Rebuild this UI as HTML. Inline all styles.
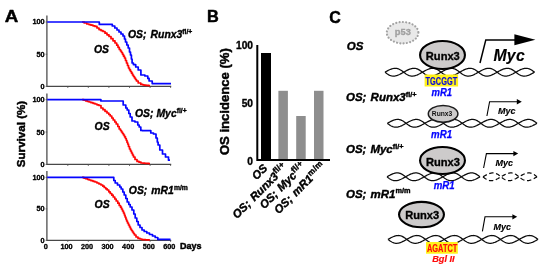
<!DOCTYPE html>
<html><head><meta charset="utf-8"><title>Figure</title>
<style>
html,body{margin:0;padding:0;background:#fff;}
body{width:550px;height:267px;overflow:hidden;}
svg{display:block;font-family:"Liberation Sans",sans-serif;}
.b{font-weight:bold;}
.k{stroke:#000;stroke-width:0.45px;}
.bi{font-weight:bold;font-style:italic;}
text{stroke-linejoin:round;}
.tk{font-weight:bold;font-size:7.3px;fill:#000;stroke:#000;stroke-width:0.3px;}
.tkb{font-weight:bold;font-size:10.2px;fill:#000;stroke:#000;stroke-width:0.35px;}
.ax{stroke:#484848;stroke-width:1.25;fill:none;}
.axt{stroke:#505050;stroke-width:0.8;fill:none;}
.red{stroke:#ff0505;stroke-width:1.7;fill:none;stroke-linejoin:round;}
.blue{stroke:#0505ff;stroke-width:1.7;fill:none;stroke-linejoin:round;}
.hx{stroke:#0c0c0c;stroke-width:1.25;fill:none;}
.lab{font-weight:bold;font-style:italic;font-size:11.5px;fill:#000;stroke:#000;stroke-width:0.4px;}
.sup{font-size:7.3px;font-style:normal;}
.supb{font-size:8.2px;font-style:normal;letter-spacing:0.25px;}
.labb{font-size:11.4px;word-spacing:1.2px;}
.crv{font-weight:bold;font-style:italic;font-size:10.4px;fill:#000;stroke:#000;stroke-width:0.35px;word-spacing:1.2px;}
.csup{font-size:6.8px;font-style:normal;}
</style></head><body>
<svg width="550" height="267" viewBox="0 0 550 267">
<rect width="550" height="267" fill="#fff"/>

<text class="b k" transform="translate(4.8 22.2) scale(1.15 1)" font-size="16.3">A</text>
<path class="ax" d="M46.900000000000006 15.6V86.4H171.2"/>
<path class="axt" d="M67.8 86.4v1.6M88.3 86.4v1.6M108.9 86.4v1.6M129.5 86.4v1.6M150.1 86.4v1.6M170.6 86.4v1.6"/>
<path class="axt" d="M47.2 22.0h-1.6M47.2 54.2h-1.6M47.2 86.4h-1.6"/>
<text class="tk" text-anchor="end" x="44.6" y="24.4">100</text>
<text class="tk" text-anchor="end" x="44.6" y="56.7">50</text>
<text class="tk" text-anchor="end" x="44.6" y="88.9">0</text>
<path class="ax" d="M46.900000000000006 93.4V164.4H171.2"/>
<path class="axt" d="M67.8 164.4v1.6M88.3 164.4v1.6M108.9 164.4v1.6M129.5 164.4v1.6M150.1 164.4v1.6M170.6 164.4v1.6"/>
<path class="axt" d="M47.2 99.6h-1.6M47.2 132.0h-1.6M47.2 164.4h-1.6"/>
<text class="tk" text-anchor="end" x="44.6" y="102.0">100</text>
<text class="tk" text-anchor="end" x="44.6" y="134.5">50</text>
<text class="tk" text-anchor="end" x="44.6" y="166.9">0</text>
<path class="ax" d="M46.900000000000006 171.0V240.3H171.2"/>
<path class="axt" d="M67.8 240.3v1.6M88.3 240.3v1.6M108.9 240.3v1.6M129.5 240.3v1.6M150.1 240.3v1.6M170.6 240.3v1.6"/>
<path class="axt" d="M47.2 177.4h-1.6M47.2 208.9h-1.6M47.2 240.3h-1.6"/>
<text class="tk" text-anchor="end" x="44.6" y="179.8">100</text>
<text class="tk" text-anchor="end" x="44.6" y="211.4">50</text>
<text class="tk" text-anchor="end" x="44.6" y="242.8">0</text>
<text class="tk" text-anchor="middle" x="45.9" y="248.9">0</text>
<text class="tk" text-anchor="middle" x="66.5" y="248.9">100</text>
<text class="tk" text-anchor="middle" x="87.0" y="248.9">200</text>
<text class="tk" text-anchor="middle" x="107.6" y="248.9">300</text>
<text class="tk" text-anchor="middle" x="128.2" y="248.9">400</text>
<text class="tk" text-anchor="middle" x="148.8" y="248.9">500</text>
<text class="tk" text-anchor="middle" x="169.3" y="248.9">600</text>
<text class="b k" x="180" y="249.4" font-size="9">Days</text>
<text class="b k" font-size="11.6" transform="translate(24.5 167.2) rotate(-90)">Survival (%)</text>
<path class="red" d="M82.0 22.0H82.5V22.0H83.0H84.2V23.0H85.5H86.8V24.0H88.0H89.0V24.6H90.0H91.0V25.2H92.0H93.0V25.8H94.0H95.0V26.4H96.0H97.0V28.0H98.0H99.0V29.6H100.0H101.0V30.6H102.0H103.0V31.5H104.0H105.0V33.2H106.0H107.0V34.8H108.0H109.0V36.5H110.0H111.0V38.7H112.0H113.0V40.8H114.0H115.0V43.0H116.0H116.7V45.2H117.3H118.0V47.3H118.7H119.3V49.5H120.0H120.5V51.0H121.0H121.5V52.5H122.0H122.5V54.3H123.0H123.5V56.2H124.0H124.5V58.0H125.0H125.5V60.5H126.0H126.5V63.0H127.0H127.5V65.5H128.0H128.5V68.0H129.0H129.5V69.8H130.0H130.5V71.5H131.0H131.5V73.2H132.0H132.5V75.0H133.0H133.5V76.5H134.0H134.5V78.0H135.0H135.5V79.5H136.0H136.5V81.0H137.0H138.2V83.0H139.5H140.8V84.4H142.0H142.8V84.8H143.5H144.2V85.2H145.0H146.2V85.4H147.5H148.8V85.6H150.0"/>
<path class="blue" d="M47.2 22.0H73.1V22.0H99.0H99.3V24.4H99.6H105.3V24.4H111.0H112.3V26.0H113.6H114.8V28.0H116.0H117.0V30.0H118.0H119.0V32.0H120.0H121.0V34.0H122.0H123.0V36.0H124.0H124.5V39.0H125.0H125.5V42.0H126.0H126.8V45.0H127.5H128.2V48.0H129.0H129.5V52.0H130.0H130.5V55.0H131.0H131.4V59.0H131.8H132.1V63.0H132.4H133.4V64.6H134.4H135.7V67.0H137.0H138.2V70.0H139.4H140.9V75.0H142.4H144.9V76.0H147.5H147.8V78.4H148.2H149.1V81.0H150.0H152.2V83.6H154.5H155.0V83.6H155.5H163.2V83.6H171.0"/>
<path class="red" d="M82.0 99.6H82.5V99.6H83.0H83.9V100.2H84.8H85.6V100.8H86.5H87.4V101.4H88.2H89.1V102.0H90.0H91.0V102.7H92.0H93.0V103.3H94.0H95.0V104.0H96.0H97.0V104.8H98.0H99.0V105.5H100.0H101.0V108.0H102.0H103.0V109.7H104.0H105.0V111.3H106.0H107.0V113.0H108.0H108.8V114.5H109.5H110.2V116.0H111.0H111.8V118.0H112.5H113.2V120.0H114.0H114.8V122.0H115.5H116.2V124.0H117.0H117.8V126.5H118.5H119.2V129.0H120.0H120.5V130.5H121.0H121.5V132.0H122.0H122.5V133.5H123.0H123.5V135.0H124.0H124.5V136.8H125.0H125.5V138.5H126.0H126.3V140.3H126.7H127.0V142.2H127.3H127.7V144.0H128.0H128.5V146.5H129.0H129.5V149.0H130.0H130.5V151.0H131.0H131.5V153.0H132.0H132.5V155.0H133.0H133.5V157.0H134.0H135.0V159.5H136.0H137.0V161.4H138.0H139.0V162.2H140.0H141.0V163.0H142.0H143.0V163.2H144.0H145.0V163.3H146.0H147.0V163.4H148.0H149.0V163.6H150.0"/>
<path class="blue" d="M47.2 99.6H73.9V99.6H100.6H100.9V101.0H101.2H111.3V101.0H121.5H123.2V105.0H125.0H125.8V108.0H126.5H127.2V110.0H128.0H128.8V113.5H129.5H130.2V117.0H131.0H132.0V121.0H133.0H135.0V122.0H137.0H137.8V125.0H138.5H139.2V127.0H140.0H140.8V130.4H141.6H142.1V130.6H142.5H146.0V130.6H149.5H150.8V133.0H152.0H153.5V134.0H155.0H156.0V138.0H157.0H157.3V142.0H157.6H158.1V145.0H158.5H159.8V150.0H161.0H162.5V154.0H164.0H165.5V157.0H167.0H168.5V160.2H170.0"/>
<path class="red" d="M82.0 177.4H82.5V177.4H83.0H83.9V178.1H84.8H85.6V178.7H86.5H87.4V179.3H88.2H89.1V180.0H90.0H91.0V180.7H92.0H93.0V181.3H94.0H95.0V182.0H96.0H97.0V183.0H98.0H99.0V184.0H100.0H101.0V185.0H102.0H102.8V186.2H103.5H104.2V187.5H105.0H105.8V188.8H106.5H107.2V190.0H108.0H108.8V191.8H109.5H110.2V193.5H111.0H111.8V195.2H112.5H113.2V197.0H114.0H114.8V199.0H115.5H116.2V201.0H117.0H117.8V203.2H118.5H119.2V205.5H120.0H120.5V207.2H121.0H121.5V209.0H122.0H122.5V211.0H123.0H123.5V213.0H124.0H124.4V215.0H124.8H125.1V217.0H125.5H125.9V219.0H126.2H126.6V221.0H127.0H127.5V223.0H128.0H128.5V225.0H129.0H129.5V227.0H130.0H130.5V229.0H131.0H131.5V230.5H132.0H132.5V232.0H133.0H133.5V233.5H134.0H134.5V235.0H135.0H136.0V237.0H137.0H138.0V238.4H139.0H140.0V239.0H141.0H142.0V239.6H143.0H143.9V239.7H144.8H145.6V239.8H146.5H147.4V239.9H148.2H149.1V240.0H150.0"/>
<path class="blue" d="M47.2 177.4H80.1V177.4H113.0H113.8V180.5H114.5H115.2V183.0H116.0H117.5V185.0H119.0H119.8V187.0H120.5H121.2V189.0H122.0H122.8V192.0H123.5H124.2V195.0H125.0H125.8V198.5H126.5H127.2V202.0H128.0H128.8V204.5H129.5H130.2V207.0H131.0H132.0V210.0H133.0H133.8V214.0H134.5H135.2V218.0H136.0H136.8V221.5H137.5H138.2V225.0H139.0H140.0V227.5H141.0H142.0V230.0H143.0H144.2V231.5H145.5H146.8V233.0H148.0H149.5V234.5H151.0H152.5V236.0H154.0H155.2V237.5H156.5H157.8V239.4H159.0H159.5V239.4H160.0H165.2V239.4H170.5"/>
<text class="crv" x="94" y="52.8">OS</text>
<text class="crv" x="94.6" y="129.6">OS</text>
<text class="crv" x="94.6" y="208.2">OS</text>
<text class="crv" x="128" y="37.6">OS; Runx3<tspan class="csup" dy="-4">fl/+</tspan></text>
<text class="crv" x="135" y="117.2" style="word-spacing:0.1px">OS; Myc<tspan class="csup" dy="-4">fl/+</tspan></text>
<text class="crv" x="128.8" y="194.1">OS; mR1<tspan class="csup" dy="-4">m/m</tspan></text>
<text class="b k" transform="translate(207 22.2) scale(1.04 1)" font-size="15.7">B</text>
<rect x="261" y="53" width="10" height="106.5" fill="#000"/>
<rect x="278.4" y="90.8" width="9.5" height="68.7" fill="#8e8e8e"/>
<rect x="296.2" y="116" width="9.5" height="43.5" fill="#8e8e8e"/>
<rect x="314" y="90.8" width="9.5" height="68.7" fill="#8e8e8e"/>
<path d="M257.3 45V160H330" stroke="#000" stroke-width="2" fill="none"/>
<text class="tkb" text-anchor="end" x="253" y="49">100</text>
<text class="tkb" text-anchor="end" x="253" y="107.2">50</text>
<text class="tkb" text-anchor="end" x="253" y="164.7">0</text>
<text class="b k" font-size="13.1" transform="translate(229 155.1) rotate(-90)">OS incidence (%)</text>
<text class="lab labb" transform="translate(256.6 180.6) rotate(-45)">OS</text>
<text class="lab labb" transform="translate(237.0 219.2) rotate(-45)">OS; Runx3<tspan class="supb" dy="-4.4">fl/+</tspan></text>
<text class="lab labb" transform="translate(264.2 209.4) rotate(-45)">OS; Myc<tspan class="supb" dy="-4.4">fl/+</tspan></text>
<text class="lab labb" transform="translate(278.8 214.4) rotate(-45)">OS; mR1<tspan class="supb" dy="-4.4">m/m</tspan></text>
<text class="b k" x="329.2" y="22.6" font-size="16">C</text>
<text class="lab" x="346.8" y="49.6">OS</text>
<text class="lab" x="346" y="101.4">OS;</text><text class="lab" x="370.6" y="101.4">Runx3<tspan class="sup" dy="-4.4" font-size="7.6">fl/+</tspan></text>
<text class="lab" x="346" y="153.3">OS;</text><text class="lab" x="370.4" y="153.3">Myc<tspan class="sup" dy="-4.4" font-size="7.6">fl/+</tspan></text>
<text class="lab" x="346" y="197.8">OS;</text><text class="lab" x="370.6" y="197.8">mR1<tspan class="sup" dy="-4.4" font-size="6.9">m/m</tspan></text>
<ellipse cx="402.6" cy="32.7" rx="15.8" ry="10.7" fill="#e9e9e9" stroke="#a2a2a2" stroke-width="2.2" stroke-linecap="round" stroke-dasharray="0.01 3.3"/>
<text class="b" x="402.8" y="35.2" font-size="9.3" fill="#a0a0a0" stroke="#a0a0a0" stroke-width="0.3" text-anchor="middle">p53</text>
<path class="hx"  d="M385.00 72.20L385.42 72.53L385.85 72.85L386.28 73.17L386.70 73.49L387.13 73.79L387.57 74.08L388.00 74.36L388.44 74.63L388.88 74.88L389.33 75.11L389.78 75.31L390.24 75.50L390.70 75.66L391.17 75.80L391.64 75.91L392.12 76.00L392.61 76.06L393.10 76.09L393.60 76.10L394.11 76.08L394.62 76.03L395.13 75.95L395.66 75.85L396.19 75.72L396.72 75.56L397.26 75.39L397.81 75.19L398.36 74.96L398.92 74.72L399.48 74.47L400.04 74.19L400.61 73.90L401.18 73.60L401.75 73.29L402.32 72.97L402.90 72.65L403.47 72.32L404.05 72.00L404.62 71.67L405.20 71.35L405.77 71.03L406.34 70.72L406.91 70.42L407.48 70.14L408.04 69.87L408.60 69.61L409.15 69.38L409.70 69.16L410.25 68.97L410.79 68.80L411.32 68.65L411.85 68.53L412.37 68.43L412.89 68.36L413.40 68.32L413.90 68.30L414.40 68.31L414.89 68.35L415.37 68.42L415.85 68.51L416.32 68.63L416.79 68.78L417.25 68.94L417.71 69.14L418.16 69.35L418.60 69.58L419.05 69.84L419.48 70.10L419.92 70.39L420.35 70.68L420.78 70.99L421.21 71.31L421.63 71.63L422.06 71.95L422.48 72.28L422.91 72.61L423.33 72.93L423.76 73.25L424.19 73.56L424.62 73.87L425.05 74.16L425.48 74.43L425.92 74.69L426.37 74.94L426.82 75.16L427.27 75.36L427.73 75.54L428.19 75.70L428.66 75.83L429.14 75.94L429.62 76.02L430.11 76.07L430.60 76.10L431.10 76.10L431.61 76.07L432.12 76.01L432.64 75.93L433.17 75.82L433.70 75.68L434.23 75.52L434.78 75.34L435.32 75.13L435.88 74.91L436.43 74.66L436.99 74.40L437.56 74.12L438.12 73.83L438.69 73.53L439.27 73.21L439.84 72.89L440.42 72.57L440.99 72.24L441.57 71.91L442.14 71.59L442.72 71.27L443.29 70.95L443.86 70.65L444.43 70.35L444.99 70.07L445.55 69.80L446.11 69.55L446.66 69.32L447.21 69.11L447.76 68.92L448.29 68.76L448.83 68.61L449.35 68.50L449.87 68.41L450.39 68.35L450.90 68.31L451.40 68.30L451.90 68.32L452.38 68.37L452.87 68.44L453.34 68.54L453.82 68.66L454.28 68.82L454.74 68.99L455.20 69.19L455.64 69.41L456.09 69.64L456.53 69.90L456.97 70.17L457.40 70.46L457.83 70.76L458.26 71.07L458.69 71.39L459.11 71.71L459.54 72.04L459.96 72.36L460.39 72.69L460.81 73.01L461.24 73.33L461.67 73.64L462.10 73.94L462.53 74.23L462.97 74.50L463.41 74.76L463.86 74.99L464.30 75.21L464.76 75.41L465.22 75.58L465.68 75.74L466.16 75.86L466.63 75.96L467.12 76.03L467.60 76.08L468.10 76.10L468.60 76.09L469.11 76.05L469.63 75.99L470.15 75.90L470.67 75.79L471.21 75.64L471.74 75.48L472.29 75.29L472.84 75.08L473.39 74.85L473.95 74.60L474.51 74.33L475.07 74.05L475.64 73.75L476.21 73.45L476.78 73.13L477.36 72.81L477.93 72.49L478.51 72.16L479.08 71.83L479.66 71.51L480.23 71.19L480.81 70.87L481.38 70.57L481.94 70.28L482.51 70.00L483.07 69.74L483.62 69.49L484.18 69.27L484.72 69.06L485.27 68.88L485.80 68.72L486.33 68.58L486.86 68.47L487.38 68.39L487.89 68.33L488.40 68.30L488.90 68.30L489.39 68.33L489.88 68.38L490.36 68.46L490.84 68.57L491.31 68.70L491.77 68.86L492.23 69.04L492.68 69.24L493.13 69.46L493.58 69.71L494.02 69.97L494.45 70.24L494.88 70.53L495.31 70.84L495.74 71.15L496.17 71.47L496.59 71.79L497.02 72.12L497.44 72.45L497.87 72.77L498.29 73.09L498.72 73.41L499.15 73.72L499.58 74.01L500.02 74.30L500.45 74.56L500.90 74.82L501.34 75.05L501.79 75.26L502.25 75.46L502.71 75.62L503.18 75.77L503.65 75.89L504.13 75.98L504.61 76.05L505.10 76.09L505.60 76.10L506.10 76.08L506.61 76.04L507.13 75.97L507.65 75.87L508.18 75.75L508.71 75.60L509.25 75.43L509.80 75.24L510.35 75.02L510.90 74.79L511.46 74.53L512.02 74.26L512.59 73.98L513.16 73.68L513.73 73.37L514.30 73.05L514.88 72.73L515.45 72.40L516.03 72.08L516.60 71.75L517.18 71.43L517.75 71.11L518.32 70.80L518.89 70.50L519.46 70.21L520.02 69.93L520.58 69.68L521.14 69.44L521.69 69.21L522.24 69.01L522.78 68.84L523.31 68.68L523.84 68.55L524.37 68.45L524.88 68.37L525.39 68.32L525.90 68.30L526.40 68.31L526.89 68.34L527.38 68.40L527.86 68.49L528.33 68.60L528.80 68.74L529.26 68.90L529.72 69.09L530.17 69.29L530.62 69.52L531.06 69.77L531.50 70.04L531.93 70.32L532.37 70.61L532.80 70.91L533.22 71.23L533.65 71.55L534.08 71.87L534.50 72.20"/>
<path class="hx"  d="M385.00 72.20L385.58 71.87L386.15 71.55L386.72 71.23L387.30 70.91L387.87 70.61L388.43 70.32L389.00 70.04L389.56 69.77L390.12 69.52L390.67 69.29L391.22 69.09L391.76 68.90L392.30 68.74L392.83 68.60L393.36 68.49L393.88 68.40L394.39 68.34L394.90 68.31L395.40 68.30L395.89 68.32L396.38 68.37L396.87 68.45L397.34 68.55L397.81 68.68L398.28 68.84L398.74 69.01L399.19 69.21L399.64 69.44L400.08 69.68L400.52 69.93L400.96 70.21L401.39 70.50L401.82 70.80L402.25 71.11L402.68 71.43L403.10 71.75L403.53 72.08L403.95 72.40L404.38 72.73L404.80 73.05L405.23 73.37L405.66 73.68L406.09 73.98L406.52 74.26L406.96 74.53L407.40 74.79L407.85 75.02L408.30 75.24L408.75 75.43L409.21 75.60L409.68 75.75L410.15 75.87L410.63 75.97L411.11 76.04L411.60 76.08L412.10 76.10L412.60 76.09L413.11 76.05L413.63 75.98L414.15 75.89L414.68 75.77L415.21 75.62L415.75 75.46L416.29 75.26L416.84 75.05L417.40 74.82L417.95 74.56L418.52 74.30L419.08 74.01L419.65 73.72L420.22 73.41L420.79 73.09L421.37 72.77L421.94 72.45L422.52 72.12L423.09 71.79L423.67 71.47L424.24 71.15L424.81 70.84L425.38 70.53L425.95 70.24L426.52 69.97L427.08 69.71L427.63 69.46L428.18 69.24L428.73 69.04L429.27 68.86L429.81 68.70L430.34 68.57L430.86 68.46L431.38 68.38L431.89 68.33L432.40 68.30L432.90 68.30L433.39 68.33L433.88 68.39L434.36 68.47L434.83 68.58L435.30 68.72L435.77 68.88L436.22 69.06L436.68 69.27L437.12 69.49L437.57 69.74L438.01 70.00L438.44 70.28L438.88 70.57L439.31 70.87L439.73 71.19L440.16 71.51L440.58 71.83L441.01 72.16L441.43 72.49L441.86 72.81L442.28 73.13L442.71 73.45L443.14 73.75L443.57 74.05L444.01 74.33L444.45 74.60L444.89 74.85L445.34 75.08L445.79 75.29L446.24 75.48L446.71 75.64L447.17 75.79L447.65 75.90L448.13 75.99L448.61 76.05L449.10 76.09L449.60 76.10L450.10 76.08L450.62 76.03L451.13 75.96L451.66 75.86L452.18 75.74L452.72 75.58L453.26 75.41L453.80 75.21L454.36 74.99L454.91 74.76L455.47 74.50L456.03 74.23L456.60 73.94L457.17 73.64L457.74 73.33L458.31 73.01L458.89 72.69L459.46 72.36L460.04 72.04L460.61 71.71L461.19 71.39L461.76 71.07L462.33 70.76L462.90 70.46L463.47 70.17L464.03 69.90L464.59 69.64L465.14 69.41L465.70 69.19L466.24 68.99L466.78 68.82L467.32 68.66L467.84 68.54L468.37 68.44L468.88 68.37L469.40 68.32L469.90 68.30L470.40 68.31L470.89 68.35L471.37 68.41L471.85 68.50L472.33 68.61L472.79 68.76L473.26 68.92L473.71 69.11L474.16 69.32L474.61 69.55L475.05 69.80L475.49 70.07L475.93 70.35L476.36 70.65L476.79 70.95L477.22 71.27L477.64 71.59L478.07 71.91L478.49 72.24L478.92 72.57L479.34 72.89L479.77 73.21L480.19 73.53L480.62 73.83L481.06 74.12L481.49 74.40L481.93 74.66L482.38 74.91L482.82 75.13L483.28 75.34L483.73 75.52L484.20 75.68L484.67 75.82L485.14 75.93L485.62 76.01L486.11 76.07L486.60 76.10L487.10 76.10L487.61 76.07L488.12 76.02L488.64 75.94L489.16 75.83L489.69 75.70L490.23 75.54L490.77 75.36L491.32 75.16L491.87 74.94L492.42 74.69L492.98 74.43L493.55 74.16L494.12 73.87L494.69 73.56L495.26 73.25L495.83 72.93L496.41 72.61L496.98 72.28L497.56 71.95L498.13 71.63L498.71 71.31L499.28 70.99L499.85 70.68L500.42 70.39L500.98 70.10L501.55 69.84L502.10 69.58L502.66 69.35L503.21 69.14L503.75 68.94L504.29 68.78L504.82 68.63L505.35 68.51L505.87 68.42L506.39 68.35L506.90 68.31L507.40 68.30L507.90 68.32L508.39 68.36L508.87 68.43L509.35 68.53L509.82 68.65L510.29 68.80L510.75 68.97L511.20 69.16L511.65 69.38L512.10 69.61L512.54 69.87L512.98 70.14L513.41 70.42L513.84 70.72L514.27 71.03L514.70 71.35L515.12 71.67L515.55 72.00L515.97 72.32L516.40 72.65L516.82 72.97L517.25 73.29L517.68 73.60L518.11 73.90L518.54 74.19L518.98 74.47L519.42 74.72L519.86 74.96L520.31 75.19L520.76 75.39L521.22 75.56L521.69 75.72L522.16 75.85L522.63 75.95L523.12 76.03L523.61 76.08L524.10 76.10L524.60 76.09L525.11 76.06L525.62 76.00L526.14 75.91L526.67 75.80L527.20 75.66L527.74 75.50L528.28 75.31L528.83 75.11L529.38 74.88L529.94 74.63L530.50 74.36L531.07 74.08L531.63 73.79L532.20 73.49L532.78 73.17L533.35 72.85L533.92 72.53L534.50 72.20"/>
<rect x="424.6" y="74.5" width="33.5" height="12" fill="#fff21a"/>
<ellipse cx="442.5" cy="55" rx="22.45" ry="13.95" fill="#cdcbcb" stroke="#000" stroke-width="2.1"/>
<text class="b" x="442.8" y="60" font-size="11.1" stroke="#000" stroke-width="0.35" text-anchor="middle">Runx3</text>
<text class="b" x="425.6" y="84.8" font-size="10.1" fill="#0808e0" stroke="#0808e0" stroke-width="0.15" textLength="31.6" lengthAdjust="spacingAndGlyphs">TGCGGT</text>
<text class="bi" x="431.5" y="95.8" font-size="10.2" fill="#0505ff" stroke="#0505ff" stroke-width="0.25" textLength="20.6" lengthAdjust="spacingAndGlyphs">mR1</text>
<path d="M480 63L485.8 39.9H516" stroke="#000" stroke-width="1.5" fill="none"/>
<path d="M514.4 34.2L535.4 39.8L514.4 45.2Z" fill="#000"/>
<text class="bi" x="493.4" y="60.9" font-size="15.8" letter-spacing="0.3" stroke="#000" stroke-width="0.15">Myc</text>
<path class="hx"  d="M387.40 123.30L387.82 123.63L388.25 123.95L388.68 124.27L389.10 124.59L389.53 124.89L389.97 125.18L390.40 125.46L390.84 125.73L391.29 125.98L391.73 126.21L392.19 126.41L392.64 126.60L393.11 126.76L393.57 126.90L394.05 127.01L394.53 127.10L395.01 127.16L395.51 127.19L396.01 127.20L396.51 127.18L397.02 127.13L397.54 127.05L398.07 126.95L398.60 126.82L399.13 126.66L399.67 126.49L400.22 126.29L400.77 126.06L401.33 125.82L401.89 125.57L402.45 125.29L403.02 125.00L403.59 124.70L404.16 124.39L404.73 124.07L405.31 123.75L405.88 123.42L406.46 123.10L407.04 122.77L407.61 122.45L408.18 122.13L408.76 121.82L409.32 121.52L409.89 121.24L410.45 120.97L411.01 120.71L411.57 120.48L412.12 120.26L412.66 120.07L413.20 119.90L413.74 119.75L414.27 119.63L414.79 119.53L415.30 119.46L415.81 119.42L416.32 119.40L416.82 119.41L417.31 119.45L417.79 119.52L418.27 119.61L418.74 119.73L419.21 119.88L419.67 120.04L420.13 120.24L420.58 120.45L421.03 120.68L421.47 120.94L421.91 121.20L422.34 121.49L422.77 121.78L423.20 122.09L423.63 122.41L424.06 122.73L424.48 123.05L424.91 123.38L425.33 123.71L425.76 124.03L426.18 124.35L426.61 124.66L427.04 124.97L427.48 125.26L427.91 125.53L428.35 125.79L428.80 126.04L429.25 126.26L429.70 126.46L430.16 126.64L430.62 126.80L431.09 126.93L431.57 127.04L432.05 127.12L432.54 127.17L433.03 127.20L433.53 127.20L434.04 127.17L434.55 127.11L435.07 127.03L435.60 126.92L436.13 126.78L436.67 126.62L437.21 126.44L437.76 126.23L438.31 126.01L438.87 125.76L439.43 125.50L439.99 125.22L440.56 124.93L441.13 124.63L441.70 124.31L442.28 123.99L442.85 123.67L443.43 123.34L444.00 123.01L444.58 122.69L445.15 122.37L445.73 122.05L446.30 121.75L446.87 121.45L447.43 121.17L447.99 120.90L448.55 120.65L449.10 120.42L449.65 120.21L450.20 120.02L450.74 119.86L451.27 119.71L451.80 119.60L452.32 119.51L452.83 119.45L453.34 119.41L453.84 119.40L454.34 119.42L454.83 119.47L455.31 119.54L455.79 119.64L456.26 119.76L456.73 119.92L457.19 120.09L457.64 120.29L458.09 120.51L458.54 120.74L458.98 121.00L459.42 121.27L459.85 121.56L460.28 121.86L460.71 122.17L461.14 122.49L461.56 122.81L461.99 123.14L462.41 123.46L462.84 123.79L463.26 124.11L463.69 124.43L464.12 124.74L464.55 125.04L464.98 125.33L465.42 125.60L465.86 125.86L466.31 126.09L466.76 126.31L467.21 126.51L467.67 126.68L468.14 126.84L468.61 126.96L469.09 127.06L469.57 127.13L470.06 127.18L470.56 127.20L471.06 127.19L471.57 127.15L472.08 127.09L472.60 127.00L473.13 126.89L473.66 126.74L474.20 126.58L474.75 126.39L475.30 126.18L475.85 125.95L476.41 125.70L476.97 125.43L477.53 125.15L478.10 124.85L478.67 124.55L479.25 124.23L479.82 123.91L480.40 123.59L480.97 123.26L481.55 122.93L482.12 122.61L482.70 122.29L483.27 121.97L483.84 121.67L484.41 121.38L484.97 121.10L485.53 120.84L486.09 120.59L486.64 120.37L487.19 120.16L487.73 119.98L488.27 119.82L488.80 119.68L489.33 119.57L489.85 119.49L490.36 119.43L490.87 119.40L491.37 119.40L491.86 119.43L492.35 119.48L492.83 119.56L493.31 119.67L493.78 119.80L494.24 119.96L494.70 120.14L495.15 120.34L495.60 120.56L496.05 120.81L496.49 121.07L496.92 121.34L497.36 121.63L497.79 121.94L498.22 122.25L498.64 122.57L499.07 122.89L499.49 123.22L499.92 123.55L500.34 123.87L500.77 124.19L501.20 124.51L501.63 124.82L502.06 125.11L502.49 125.40L502.93 125.66L503.37 125.92L503.82 126.15L504.27 126.36L504.73 126.56L505.19 126.72L505.66 126.87L506.13 126.99L506.61 127.08L507.09 127.15L507.58 127.19L508.08 127.20L508.59 127.18L509.10 127.14L509.61 127.07L510.13 126.97L510.66 126.85L511.20 126.70L511.74 126.53L512.28 126.34L512.83 126.12L513.39 125.89L513.95 125.63L514.51 125.36L515.08 125.08L515.64 124.78L516.22 124.47L516.79 124.15L517.36 123.83L517.94 123.50L518.52 123.18L519.09 122.85L519.67 122.53L520.24 122.21L520.81 121.90L521.38 121.60L521.95 121.31L522.51 121.03L523.07 120.78L523.63 120.54L524.18 120.31L524.73 120.11L525.27 119.94L525.80 119.78L526.33 119.65L526.86 119.55L527.38 119.47L527.89 119.42L528.39 119.40L528.89 119.41L529.39 119.44L529.87 119.50L530.35 119.59L530.83 119.70L531.29 119.84L531.76 120.00L532.21 120.19L532.67 120.39L533.11 120.62L533.56 120.87L534.00 121.14L534.43 121.42L534.87 121.71L535.30 122.01L535.72 122.33L536.15 122.65L536.58 122.97L537.00 123.30"/>
<path class="hx"  d="M387.40 123.30L387.98 122.97L388.55 122.65L389.13 122.33L389.70 122.01L390.27 121.71L390.84 121.42L391.40 121.14L391.96 120.87L392.52 120.62L393.07 120.39L393.62 120.19L394.17 120.00L394.70 119.84L395.24 119.70L395.76 119.59L396.28 119.50L396.80 119.44L397.30 119.41L397.81 119.40L398.30 119.42L398.79 119.47L399.27 119.55L399.75 119.65L400.22 119.78L400.68 119.94L401.14 120.11L401.60 120.31L402.05 120.54L402.49 120.78L402.93 121.03L403.37 121.31L403.80 121.60L404.23 121.90L404.66 122.21L405.09 122.53L405.52 122.85L405.94 123.18L406.37 123.50L406.79 123.83L407.22 124.15L407.64 124.47L408.07 124.78L408.50 125.08L408.94 125.36L409.38 125.63L409.82 125.89L410.26 126.12L410.71 126.34L411.17 126.53L411.63 126.70L412.10 126.85L412.57 126.97L413.05 127.07L413.53 127.14L414.02 127.18L414.52 127.20L415.02 127.19L415.53 127.15L416.05 127.08L416.57 126.99L417.10 126.87L417.63 126.72L418.17 126.56L418.71 126.36L419.26 126.15L419.82 125.92L420.38 125.66L420.94 125.40L421.50 125.11L422.07 124.82L422.64 124.51L423.22 124.19L423.79 123.87L424.37 123.55L424.94 123.22L425.52 122.89L426.09 122.57L426.67 122.25L427.24 121.94L427.81 121.63L428.38 121.34L428.94 121.07L429.50 120.81L430.06 120.56L430.61 120.34L431.16 120.14L431.70 119.96L432.24 119.80L432.77 119.67L433.29 119.56L433.81 119.48L434.32 119.43L434.83 119.40L435.33 119.40L435.82 119.43L436.31 119.49L436.79 119.57L437.27 119.68L437.74 119.82L438.20 119.98L438.66 120.16L439.11 120.37L439.56 120.59L440.00 120.84L440.44 121.10L440.88 121.38L441.31 121.67L441.74 121.97L442.17 122.29L442.60 122.61L443.02 122.93L443.45 123.26L443.87 123.59L444.30 123.91L444.72 124.23L445.15 124.55L445.58 124.85L446.01 125.15L446.45 125.43L446.89 125.70L447.33 125.95L447.78 126.18L448.23 126.39L448.69 126.58L449.15 126.74L449.61 126.89L450.09 127.00L450.57 127.09L451.05 127.15L451.55 127.19L452.04 127.20L452.55 127.18L453.06 127.13L453.58 127.06L454.10 126.96L454.63 126.84L455.16 126.68L455.71 126.51L456.25 126.31L456.80 126.09L457.36 125.86L457.92 125.60L458.48 125.33L459.05 125.04L459.62 124.74L460.19 124.43L460.76 124.11L461.34 123.79L461.91 123.46L462.49 123.14L463.06 122.81L463.64 122.49L464.21 122.17L464.78 121.86L465.35 121.56L465.92 121.27L466.48 121.00L467.04 120.74L467.60 120.51L468.15 120.29L468.69 120.09L469.24 119.92L469.77 119.76L470.30 119.64L470.82 119.54L471.34 119.47L471.85 119.42L472.36 119.40L472.85 119.41L473.35 119.45L473.83 119.51L474.31 119.60L474.79 119.71L475.25 119.86L475.71 120.02L476.17 120.21L476.62 120.42L477.07 120.65L477.51 120.90L477.95 121.17L478.39 121.45L478.82 121.75L479.25 122.05L479.68 122.37L480.10 122.69L480.53 123.01L480.95 123.34L481.38 123.67L481.80 123.99L482.23 124.31L482.66 124.63L483.09 124.93L483.52 125.22L483.96 125.50L484.40 125.76L484.84 126.01L485.29 126.23L485.74 126.44L486.20 126.62L486.66 126.78L487.13 126.92L487.61 127.03L488.09 127.11L488.58 127.17L489.07 127.20L489.57 127.20L490.08 127.17L490.59 127.12L491.11 127.04L491.63 126.93L492.16 126.80L492.70 126.64L493.24 126.46L493.79 126.26L494.34 126.04L494.90 125.79L495.46 125.53L496.02 125.26L496.59 124.97L497.16 124.66L497.73 124.35L498.31 124.03L498.88 123.71L499.46 123.38L500.03 123.05L500.61 122.73L501.18 122.41L501.76 122.09L502.33 121.78L502.90 121.49L503.46 121.20L504.02 120.94L504.58 120.68L505.14 120.45L505.69 120.24L506.23 120.04L506.77 119.88L507.30 119.73L507.83 119.61L508.35 119.52L508.87 119.45L509.38 119.41L509.88 119.40L510.38 119.42L510.87 119.46L511.35 119.53L511.83 119.63L512.30 119.75L512.77 119.90L513.23 120.07L513.69 120.26L514.14 120.48L514.58 120.71L515.02 120.97L515.46 121.24L515.90 121.52L516.33 121.82L516.76 122.13L517.18 122.45L517.61 122.77L518.03 123.10L518.46 123.42L518.88 123.75L519.31 124.07L519.74 124.39L520.17 124.70L520.60 125.00L521.03 125.29L521.47 125.57L521.91 125.82L522.35 126.06L522.80 126.29L523.26 126.49L523.72 126.66L524.18 126.82L524.65 126.95L525.13 127.05L525.61 127.13L526.10 127.18L526.59 127.20L527.10 127.19L527.60 127.16L528.12 127.10L528.64 127.01L529.16 126.90L529.70 126.76L530.23 126.60L530.78 126.41L531.33 126.21L531.88 125.98L532.44 125.73L533.00 125.46L533.56 125.18L534.13 124.89L534.70 124.59L535.27 124.27L535.85 123.95L536.42 123.63L537.00 123.30"/>
<ellipse cx="443.1" cy="113.8" rx="14.8" ry="8.4" fill="#cdcbcb" stroke="#1c1c1c" stroke-width="1.5"/>
<text class="b" x="442.1" y="116.1" font-size="6.7" text-anchor="middle" fill="#111">Runx3</text>
<text class="bi" x="431.1" y="137.6" font-size="10.2" fill="#0505ff" stroke="#0505ff" stroke-width="0.25" textLength="21" lengthAdjust="spacingAndGlyphs">mR1</text>
<path d="M486.9 116L489.6 101.7H518" stroke="#000" stroke-width="1.1" fill="none"/>
<path d="M516.8 99L521.8 101.7L516.8 104.4Z" fill="#000"/>
<text class="bi" x="498" y="114" font-size="9" stroke="#000" stroke-width="0.15">Myc</text>
<path class="hx"  d="M387.00 176.80L387.42 177.13L387.85 177.46L388.27 177.78L388.70 178.09L389.13 178.40L389.56 178.69L390.00 178.97L390.44 179.24L390.88 179.49L391.33 179.72L391.78 179.92L392.24 180.11L392.70 180.27L393.17 180.41L393.64 180.52L394.12 180.61L394.61 180.66L395.10 180.69L395.60 180.70L396.11 180.67L396.62 180.62L397.14 180.54L397.66 180.43L398.19 180.30L398.73 180.14L399.27 179.96L399.82 179.76L400.37 179.53L400.93 179.29L401.49 179.03L402.05 178.75L402.62 178.46L403.19 178.15L403.76 177.84L404.33 177.52L404.91 177.19L405.48 176.87L406.06 176.54L406.64 176.21L407.21 175.89L407.78 175.57L408.35 175.26L408.92 174.97L409.49 174.68L410.05 174.41L410.61 174.16L411.16 173.93L411.71 173.72L412.26 173.53L412.79 173.36L413.33 173.22L413.85 173.10L414.37 173.01L414.89 172.94L415.40 172.91L415.90 172.90L416.40 172.92L416.88 172.97L417.37 173.04L417.84 173.14L418.31 173.27L418.78 173.42L419.24 173.60L419.69 173.80L420.14 174.02L420.59 174.26L421.03 174.52L421.46 174.79L421.90 175.08L422.33 175.38L422.75 175.70L423.18 176.01L423.61 176.34L424.03 176.67L424.45 177.00L424.88 177.33L425.30 177.65L425.73 177.97L426.16 178.28L426.59 178.58L427.02 178.86L427.46 179.13L427.90 179.39L428.35 179.63L428.80 179.84L429.25 180.04L429.71 180.21L430.18 180.36L430.65 180.48L431.13 180.58L431.61 180.64L432.10 180.69L432.60 180.70L433.10 180.69L433.61 180.64L434.13 180.58L434.65 180.48L435.18 180.36L435.71 180.21L436.25 180.04L436.80 179.84L437.35 179.63L437.90 179.39L438.46 179.13L439.02 178.86L439.59 178.58L440.16 178.28L440.73 177.97L441.30 177.65L441.88 177.33L442.45 177.00L443.03 176.67L443.61 176.34L444.18 176.01L444.75 175.70L445.33 175.38L445.90 175.08L446.46 174.79L447.03 174.52L447.59 174.26L448.14 174.02L448.69 173.80L449.24 173.60L449.78 173.42L450.31 173.27L450.84 173.14L451.37 173.04L451.88 172.97L452.40 172.92L452.90 172.90L453.40 172.91L453.89 172.94L454.37 173.01L454.85 173.10L455.33 173.22L455.79 173.36L456.26 173.53L456.71 173.72L457.16 173.93L457.61 174.16L458.05 174.41L458.49 174.68L458.92 174.97L459.35 175.26L459.78 175.57L460.21 175.89L460.64 176.21L461.06 176.54L461.48 176.87L461.91 177.19L462.33 177.52L462.76 177.84L463.19 178.15L463.62 178.46L464.05 178.75L464.49 179.03L464.93 179.29L465.37 179.53L465.82 179.76L466.27 179.96L466.73 180.14L467.19 180.30L467.66 180.43L468.14 180.54L468.62 180.62L469.11 180.67L469.60 180.70L470.10 180.69L470.61 180.66L471.12 180.61L471.64 180.52L472.17 180.41L472.70 180.27L473.24 180.11L473.78 179.92L474.33 179.72L474.88 179.49L475.44 179.24L476.00 178.97L476.56 178.69L477.13 178.40L477.70 178.09L478.27 177.78L478.85 177.46L479.42 177.13L480.00 176.80"/>
<path class="hx"  d="M387.00 176.80L387.58 176.47L388.15 176.14L388.73 175.82L389.30 175.51L389.87 175.20L390.44 174.91L391.00 174.63L391.56 174.36L392.12 174.11L392.67 173.88L393.22 173.68L393.76 173.49L394.30 173.33L394.83 173.19L395.36 173.08L395.88 172.99L396.39 172.94L396.90 172.91L397.40 172.90L397.89 172.93L398.38 172.98L398.86 173.06L399.34 173.17L399.81 173.30L400.27 173.46L400.73 173.64L401.18 173.84L401.63 174.07L402.07 174.31L402.51 174.57L402.95 174.85L403.38 175.14L403.81 175.45L404.24 175.76L404.67 176.08L405.09 176.41L405.52 176.73L405.94 177.06L406.36 177.39L406.79 177.71L407.22 178.03L407.65 178.34L408.08 178.63L408.51 178.92L408.95 179.19L409.39 179.44L409.84 179.67L410.29 179.88L410.74 180.07L411.21 180.24L411.67 180.38L412.15 180.50L412.63 180.59L413.11 180.66L413.60 180.69L414.10 180.70L414.60 180.68L415.12 180.63L415.63 180.56L416.16 180.46L416.69 180.33L417.22 180.18L417.76 180.00L418.31 179.80L418.86 179.58L419.41 179.34L419.97 179.08L420.54 178.81L421.10 178.52L421.67 178.22L422.25 177.90L422.82 177.59L423.39 177.26L423.97 176.93L424.55 176.60L425.12 176.27L425.70 175.95L426.27 175.63L426.84 175.32L427.41 175.02L427.98 174.74L428.54 174.47L429.10 174.21L429.65 173.97L430.20 173.76L430.75 173.56L431.29 173.39L431.82 173.24L432.35 173.12L432.87 173.02L433.39 172.96L433.90 172.91L434.40 172.90L434.90 172.91L435.39 172.96L435.87 173.02L436.35 173.12L436.82 173.24L437.29 173.39L437.75 173.56L438.20 173.76L438.65 173.97L439.10 174.21L439.54 174.47L439.98 174.74L440.41 175.02L440.84 175.32L441.27 175.63L441.70 175.95L442.12 176.27L442.55 176.60L442.97 176.93L443.39 177.26L443.82 177.59L444.25 177.90L444.67 178.22L445.10 178.52L445.54 178.81L445.97 179.08L446.41 179.34L446.86 179.58L447.31 179.80L447.76 180.00L448.22 180.18L448.69 180.33L449.16 180.46L449.63 180.56L450.12 180.63L450.60 180.68L451.10 180.70L451.60 180.69L452.11 180.66L452.63 180.59L453.15 180.50L453.67 180.38L454.21 180.24L454.74 180.07L455.29 179.88L455.84 179.67L456.39 179.44L456.95 179.19L457.51 178.92L458.08 178.63L458.65 178.34L459.22 178.03L459.79 177.71L460.36 177.39L460.94 177.06L461.52 176.73L462.09 176.41L462.67 176.08L463.24 175.76L463.81 175.45L464.38 175.14L464.95 174.85L465.51 174.57L466.07 174.31L466.63 174.07L467.18 173.84L467.73 173.64L468.27 173.46L468.81 173.30L469.34 173.17L469.86 173.06L470.38 172.98L470.89 172.93L471.40 172.90L471.90 172.91L472.39 172.94L472.88 172.99L473.36 173.08L473.83 173.19L474.30 173.33L474.76 173.49L475.22 173.68L475.67 173.88L476.12 174.11L476.56 174.36L477.00 174.63L477.44 174.91L477.87 175.20L478.30 175.51L478.73 175.82L479.15 176.14L479.58 176.47L480.00 176.80"/>
<path class="hx" stroke-dasharray="4.4 2.6" stroke-width="1.3" d="M483.00 176.80L483.42 177.14L483.84 177.48L484.27 177.81L484.69 178.13L485.12 178.45L485.55 178.75L485.98 179.04L486.42 179.31L486.86 179.56L487.31 179.79L487.76 179.99L488.22 180.18L488.68 180.33L489.15 180.46L489.63 180.57L490.11 180.64L490.60 180.69L491.10 180.70L491.60 180.69L492.11 180.64L492.63 180.57L493.15 180.46L493.68 180.33L494.22 180.18L494.76 179.99L495.31 179.79L495.86 179.56L496.42 179.31L496.98 179.04L497.55 178.75L498.12 178.45L498.69 178.13L499.27 177.81L499.84 177.48L500.42 177.14L501.00 176.80L501.58 176.46L502.16 176.12L502.73 175.79L503.31 175.47L503.88 175.15L504.45 174.85L505.02 174.56L505.58 174.29L506.14 174.04L506.69 173.81L507.24 173.61L507.78 173.42L508.32 173.27L508.85 173.14L509.37 173.03L509.89 172.96L510.40 172.91L510.90 172.90L511.40 172.91L511.89 172.96L512.37 173.03L512.85 173.14L513.32 173.27L513.78 173.42L514.24 173.61L514.69 173.81L515.14 174.04L515.58 174.29L516.02 174.56L516.45 174.85L516.88 175.15L517.31 175.47L517.73 175.79L518.16 176.12L518.58 176.46L519.00 176.80L519.42 177.14L519.84 177.48L520.27 177.81L520.69 178.13L521.12 178.45L521.55 178.75L521.98 179.04L522.42 179.31L522.86 179.56L523.31 179.79L523.76 179.99L524.22 180.18L524.68 180.33L525.15 180.46L525.63 180.57L526.11 180.64L526.60 180.69L527.10 180.70L527.60 180.69L528.11 180.64L528.63 180.57L529.15 180.46L529.68 180.33L530.22 180.18L530.76 179.99L531.31 179.79L531.86 179.56L532.42 179.31L532.98 179.04L533.55 178.75L534.12 178.45L534.69 178.13L535.27 177.81L535.84 177.48L536.42 177.14L537.00 176.80"/>
<path class="hx" stroke-dasharray="4.4 2.6" stroke-width="1.3" d="M483.00 176.80L483.58 176.46L484.16 176.12L484.73 175.79L485.31 175.47L485.88 175.15L486.45 174.85L487.02 174.56L487.58 174.29L488.14 174.04L488.69 173.81L489.24 173.61L489.78 173.42L490.32 173.27L490.85 173.14L491.37 173.03L491.89 172.96L492.40 172.91L492.90 172.90L493.40 172.91L493.89 172.96L494.37 173.03L494.85 173.14L495.32 173.27L495.78 173.42L496.24 173.61L496.69 173.81L497.14 174.04L497.58 174.29L498.02 174.56L498.45 174.85L498.88 175.15L499.31 175.47L499.73 175.79L500.16 176.12L500.58 176.46L501.00 176.80L501.42 177.14L501.84 177.48L502.27 177.81L502.69 178.13L503.12 178.45L503.55 178.75L503.98 179.04L504.42 179.31L504.86 179.56L505.31 179.79L505.76 179.99L506.22 180.18L506.68 180.33L507.15 180.46L507.63 180.57L508.11 180.64L508.60 180.69L509.10 180.70L509.60 180.69L510.11 180.64L510.63 180.57L511.15 180.46L511.68 180.33L512.22 180.18L512.76 179.99L513.31 179.79L513.86 179.56L514.42 179.31L514.98 179.04L515.55 178.75L516.12 178.45L516.69 178.13L517.27 177.81L517.84 177.48L518.42 177.14L519.00 176.80L519.58 176.46L520.16 176.12L520.73 175.79L521.31 175.47L521.88 175.15L522.45 174.85L523.02 174.56L523.58 174.29L524.14 174.04L524.69 173.81L525.24 173.61L525.78 173.42L526.32 173.27L526.85 173.14L527.37 173.03L527.89 172.96L528.40 172.91L528.90 172.90L529.40 172.91L529.89 172.96L530.37 173.03L530.85 173.14L531.32 173.27L531.78 173.42L532.24 173.61L532.69 173.81L533.14 174.04L533.58 174.29L534.02 174.56L534.45 174.85L534.88 175.15L535.31 175.47L535.73 175.79L536.16 176.12L536.58 176.46L537.00 176.80"/>
<ellipse cx="442.5" cy="160.5" rx="22.45" ry="13.5" fill="#cdcbcb" stroke="#000" stroke-width="2.1"/>
<text class="b" x="443" y="166" font-size="11.1" stroke="#000" stroke-width="0.35" text-anchor="middle">Runx3</text>
<text class="bi" x="433.7" y="189.2" font-size="10.2" fill="#0505ff" stroke="#0505ff" stroke-width="0.25" textLength="21" lengthAdjust="spacingAndGlyphs">mR1</text>
<path d="M483.6 168L486.4 153.6H514.5" stroke="#000" stroke-width="1.1" fill="none"/>
<path d="M513.4 151L518.2 153.6L513.4 156.2Z" fill="#000"/>
<text class="bi" x="495.4" y="166.4" font-size="9" stroke="#000" stroke-width="0.15">Myc</text>
<path class="hx"  d="M388.00 239.40L388.42 239.73L388.85 240.05L389.28 240.37L389.70 240.68L390.13 240.99L390.57 241.28L391.00 241.56L391.44 241.82L391.88 242.07L392.33 242.30L392.78 242.51L393.24 242.69L393.70 242.86L394.17 243.00L394.64 243.11L395.12 243.20L395.61 243.26L396.10 243.29L396.60 243.30L397.10 243.28L397.62 243.23L398.13 243.16L398.66 243.06L399.19 242.93L399.72 242.78L400.26 242.60L400.81 242.41L401.36 242.19L401.91 241.95L402.47 241.69L403.03 241.42L403.60 241.13L404.17 240.84L404.74 240.53L405.31 240.21L405.89 239.89L406.46 239.56L407.04 239.24L407.61 238.91L408.19 238.59L408.76 238.27L409.33 237.96L409.90 237.67L410.47 237.38L411.03 237.11L411.59 236.85L412.14 236.61L412.69 236.39L413.24 236.20L413.78 236.02L414.31 235.87L414.84 235.74L415.37 235.64L415.88 235.57L416.40 235.52L416.90 235.50L417.40 235.51L417.89 235.54L418.38 235.60L418.86 235.69L419.33 235.80L419.80 235.94L420.26 236.11L420.72 236.29L421.17 236.50L421.62 236.73L422.06 236.98L422.50 237.24L422.93 237.52L423.37 237.81L423.80 238.12L424.22 238.43L424.65 238.75L425.08 239.07L425.50 239.40L425.92 239.73L426.35 240.05L426.78 240.37L427.20 240.68L427.63 240.99L428.07 241.28L428.50 241.56L428.94 241.82L429.38 242.07L429.83 242.30L430.28 242.51L430.74 242.69L431.20 242.86L431.67 243.00L432.14 243.11L432.62 243.20L433.11 243.26L433.60 243.29L434.10 243.30L434.60 243.28L435.12 243.23L435.63 243.16L436.16 243.06L436.69 242.93L437.22 242.78L437.76 242.60L438.31 242.41L438.86 242.19L439.41 241.95L439.97 241.69L440.53 241.42L441.10 241.13L441.67 240.84L442.24 240.53L442.81 240.21L443.39 239.89L443.96 239.56L444.54 239.24L445.11 238.91L445.69 238.59L446.26 238.27L446.83 237.96L447.40 237.67L447.97 237.38L448.53 237.11L449.09 236.85L449.64 236.61L450.19 236.39L450.74 236.20L451.28 236.02L451.81 235.87L452.34 235.74L452.87 235.64L453.38 235.57L453.90 235.52L454.40 235.50L454.90 235.51L455.39 235.54L455.88 235.60L456.36 235.69L456.83 235.80L457.30 235.94L457.76 236.11L458.22 236.29L458.67 236.50L459.12 236.73L459.56 236.98L460.00 237.24L460.43 237.52L460.87 237.81L461.30 238.12L461.72 238.43L462.15 238.75L462.58 239.07L463.00 239.40L463.42 239.73L463.85 240.05L464.28 240.37L464.70 240.68L465.13 240.99L465.57 241.28L466.00 241.56L466.44 241.82L466.88 242.07L467.33 242.30L467.78 242.51L468.24 242.69L468.70 242.86L469.17 243.00L469.64 243.11L470.12 243.20L470.61 243.26L471.10 243.29L471.60 243.30L472.10 243.28L472.62 243.23L473.13 243.16L473.66 243.06L474.19 242.93L474.72 242.78L475.26 242.60L475.81 242.41L476.36 242.19L476.91 241.95L477.47 241.69L478.03 241.42L478.60 241.13L479.17 240.84L479.74 240.53L480.31 240.21L480.89 239.89L481.46 239.56L482.04 239.24L482.61 238.91L483.19 238.59L483.76 238.27L484.33 237.96L484.90 237.67L485.47 237.38L486.03 237.11L486.59 236.85L487.14 236.61L487.69 236.39L488.24 236.20L488.78 236.02L489.31 235.87L489.84 235.74L490.37 235.64L490.88 235.57L491.40 235.52L491.90 235.50L492.40 235.51L492.89 235.54L493.38 235.60L493.86 235.69L494.33 235.80L494.80 235.94L495.26 236.11L495.72 236.29L496.17 236.50L496.62 236.73L497.06 236.98L497.50 237.24L497.93 237.52L498.37 237.81L498.80 238.12L499.22 238.43L499.65 238.75L500.08 239.07L500.50 239.40L500.92 239.73L501.35 240.05L501.78 240.37L502.20 240.68L502.63 240.99L503.07 241.28L503.50 241.56L503.94 241.82L504.38 242.07L504.83 242.30L505.28 242.51L505.74 242.69L506.20 242.86L506.67 243.00L507.14 243.11L507.62 243.20L508.11 243.26L508.60 243.29L509.10 243.30L509.60 243.28L510.12 243.23L510.63 243.16L511.16 243.06L511.69 242.93L512.22 242.78L512.76 242.60L513.31 242.41L513.86 242.19L514.41 241.95L514.97 241.69L515.53 241.42L516.10 241.13L516.67 240.84L517.24 240.53L517.81 240.21L518.39 239.89L518.96 239.56L519.54 239.24L520.11 238.91L520.69 238.59L521.26 238.27L521.83 237.96L522.40 237.67L522.97 237.38L523.53 237.11L524.09 236.85L524.64 236.61L525.19 236.39L525.74 236.20L526.28 236.02L526.81 235.87L527.34 235.74L527.87 235.64L528.38 235.57L528.90 235.52L529.40 235.50L529.90 235.51L530.39 235.54L530.88 235.60L531.36 235.69L531.83 235.80L532.30 235.94L532.76 236.11L533.22 236.29L533.67 236.50L534.12 236.73L534.56 236.98L535.00 237.24L535.43 237.52L535.87 237.81L536.30 238.12L536.72 238.43L537.15 238.75L537.58 239.07L538.00 239.40"/>
<path class="hx"  d="M388.00 239.40L388.58 239.07L389.15 238.75L389.72 238.43L390.30 238.12L390.87 237.81L391.43 237.52L392.00 237.24L392.56 236.98L393.12 236.73L393.67 236.50L394.22 236.29L394.76 236.11L395.30 235.94L395.83 235.80L396.36 235.69L396.88 235.60L397.39 235.54L397.90 235.51L398.40 235.50L398.90 235.52L399.38 235.57L399.87 235.64L400.34 235.74L400.81 235.87L401.28 236.02L401.74 236.20L402.19 236.39L402.64 236.61L403.09 236.85L403.53 237.11L403.97 237.38L404.40 237.67L404.83 237.96L405.26 238.27L405.69 238.59L406.11 238.91L406.54 239.24L406.96 239.56L407.39 239.89L407.81 240.21L408.24 240.53L408.67 240.84L409.10 241.13L409.53 241.42L409.97 241.69L410.41 241.95L410.86 242.19L411.31 242.41L411.76 242.60L412.22 242.78L412.69 242.93L413.16 243.06L413.63 243.16L414.12 243.23L414.60 243.28L415.10 243.30L415.60 243.29L416.11 243.26L416.62 243.20L417.14 243.11L417.67 243.00L418.20 242.86L418.74 242.69L419.28 242.51L419.83 242.30L420.38 242.07L420.94 241.82L421.50 241.56L422.07 241.28L422.63 240.99L423.20 240.68L423.78 240.37L424.35 240.05L424.92 239.73L425.50 239.40L426.08 239.07L426.65 238.75L427.22 238.43L427.80 238.12L428.37 237.81L428.93 237.52L429.50 237.24L430.06 236.98L430.62 236.73L431.17 236.50L431.72 236.29L432.26 236.11L432.80 235.94L433.33 235.80L433.86 235.69L434.38 235.60L434.89 235.54L435.40 235.51L435.90 235.50L436.40 235.52L436.88 235.57L437.37 235.64L437.84 235.74L438.31 235.87L438.78 236.02L439.24 236.20L439.69 236.39L440.14 236.61L440.59 236.85L441.03 237.11L441.47 237.38L441.90 237.67L442.33 237.96L442.76 238.27L443.19 238.59L443.61 238.91L444.04 239.24L444.46 239.56L444.89 239.89L445.31 240.21L445.74 240.53L446.17 240.84L446.60 241.13L447.03 241.42L447.47 241.69L447.91 241.95L448.36 242.19L448.81 242.41L449.26 242.60L449.72 242.78L450.19 242.93L450.66 243.06L451.13 243.16L451.62 243.23L452.10 243.28L452.60 243.30L453.10 243.29L453.61 243.26L454.12 243.20L454.64 243.11L455.17 243.00L455.70 242.86L456.24 242.69L456.78 242.51L457.33 242.30L457.88 242.07L458.44 241.82L459.00 241.56L459.57 241.28L460.13 240.99L460.70 240.68L461.28 240.37L461.85 240.05L462.42 239.73L463.00 239.40L463.58 239.07L464.15 238.75L464.72 238.43L465.30 238.12L465.87 237.81L466.43 237.52L467.00 237.24L467.56 236.98L468.12 236.73L468.67 236.50L469.22 236.29L469.76 236.11L470.30 235.94L470.83 235.80L471.36 235.69L471.88 235.60L472.39 235.54L472.90 235.51L473.40 235.50L473.90 235.52L474.38 235.57L474.87 235.64L475.34 235.74L475.81 235.87L476.28 236.02L476.74 236.20L477.19 236.39L477.64 236.61L478.09 236.85L478.53 237.11L478.97 237.38L479.40 237.67L479.83 237.96L480.26 238.27L480.69 238.59L481.11 238.91L481.54 239.24L481.96 239.56L482.39 239.89L482.81 240.21L483.24 240.53L483.67 240.84L484.10 241.13L484.53 241.42L484.97 241.69L485.41 241.95L485.86 242.19L486.31 242.41L486.76 242.60L487.22 242.78L487.69 242.93L488.16 243.06L488.63 243.16L489.12 243.23L489.60 243.28L490.10 243.30L490.60 243.29L491.11 243.26L491.62 243.20L492.14 243.11L492.67 243.00L493.20 242.86L493.74 242.69L494.28 242.51L494.83 242.30L495.38 242.07L495.94 241.82L496.50 241.56L497.07 241.28L497.63 240.99L498.20 240.68L498.78 240.37L499.35 240.05L499.92 239.73L500.50 239.40L501.08 239.07L501.65 238.75L502.22 238.43L502.80 238.12L503.37 237.81L503.93 237.52L504.50 237.24L505.06 236.98L505.62 236.73L506.17 236.50L506.72 236.29L507.26 236.11L507.80 235.94L508.33 235.80L508.86 235.69L509.38 235.60L509.89 235.54L510.40 235.51L510.90 235.50L511.40 235.52L511.88 235.57L512.37 235.64L512.84 235.74L513.31 235.87L513.78 236.02L514.24 236.20L514.69 236.39L515.14 236.61L515.59 236.85L516.03 237.11L516.47 237.38L516.90 237.67L517.33 237.96L517.76 238.27L518.19 238.59L518.61 238.91L519.04 239.24L519.46 239.56L519.89 239.89L520.31 240.21L520.74 240.53L521.17 240.84L521.60 241.13L522.03 241.42L522.47 241.69L522.91 241.95L523.36 242.19L523.81 242.41L524.26 242.60L524.72 242.78L525.19 242.93L525.66 243.06L526.13 243.16L526.62 243.23L527.10 243.28L527.60 243.30L528.10 243.29L528.61 243.26L529.12 243.20L529.64 243.11L530.17 243.00L530.70 242.86L531.24 242.69L531.78 242.51L532.33 242.30L532.88 242.07L533.44 241.82L534.00 241.56L534.57 241.28L535.13 240.99L535.70 240.68L536.28 240.37L536.85 240.05L537.42 239.73L538.00 239.40"/>
<rect x="426" y="242" width="31.8" height="11.7" fill="#fff21a"/>
<ellipse cx="421.5" cy="214.6" rx="22.45" ry="12.7" fill="#cdcbcb" stroke="#000" stroke-width="2.1"/>
<text class="b" x="422.2" y="219.4" font-size="11.1" stroke="#000" stroke-width="0.35" text-anchor="middle">Runx3</text>
<text class="b" x="426.9" y="252.1" font-size="10.1" fill="#ff0a0a" stroke="#ff0a0a" stroke-width="0.15" textLength="30.5" lengthAdjust="spacingAndGlyphs">AGATCT</text>
<text class="bi" x="432.2" y="261.8" font-size="9.7" fill="#ff0a0a" stroke="#ff0a0a" stroke-width="0.2" textLength="22.4" lengthAdjust="spacingAndGlyphs">Bgl II</text>
<path d="M482.4 231.4L485 216.8H513.5" stroke="#000" stroke-width="1.1" fill="none"/>
<path d="M512.4 214.2L517.2 216.8L512.4 219.4Z" fill="#000"/>
<text class="bi" x="493.4" y="229.5" font-size="9" stroke="#000" stroke-width="0.15">Myc</text>
</svg></body></html>
